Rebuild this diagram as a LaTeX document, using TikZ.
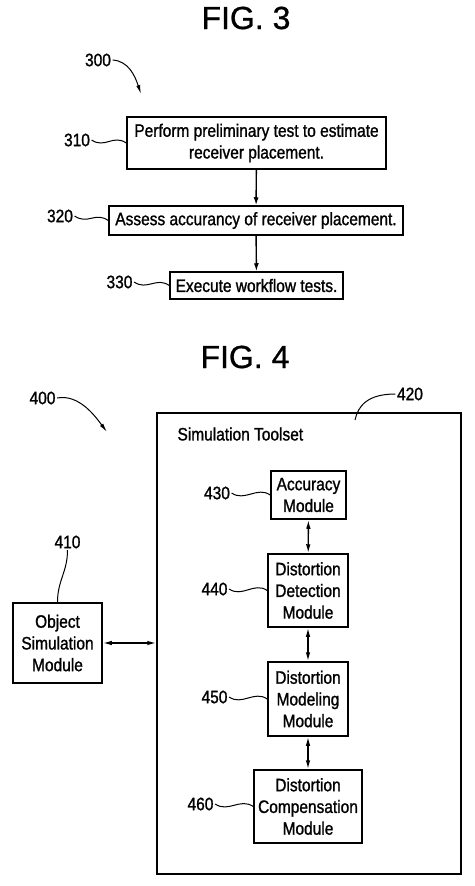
\documentclass[tikz,border=0pt]{standalone}
\usepackage{fontspec}
\setmainfont{Liberation Sans}[FakeStretch=0.86, FakeBold=1.2]
\newfontfamily\figfont{Liberation Sans}[FakeBold=0.8]
\usetikzlibrary{arrows.meta}

\tikzset{
  box/.style={draw, line width=1.5pt, inner sep=0pt, align=center},
  numlabel/.style={inner sep=1.5pt},
  leader/.style={line width=1pt, to path={.. controls +(13,9) and +(-13,-9) .. (\tikztotarget)}},
  flow/.style={-{Latex[length=8pt,width=5pt]}, line width=1.4pt},
  twoway/.style={{Latex[length=9pt,width=4.5pt]}-{Latex[length=9pt,width=4.5pt]}, line width=1.4pt},
  figtitle/.style={font=\figfont\fontsize{32}{38}\selectfont}
}

\begin{document}
\begin{tikzpicture}[x=1pt, y=-1pt, font=\fontsize{18}{21.7}\selectfont]
    \useasboundingbox (0, 0) rectangle (474, 886);

    % FIG. 3
    \node [figtitle] (fig3) at (246, 18) {FIG. 3};
    \node [numlabel] (n300) at (98, 60) {300};
    \coordinate (p300) at (141, 94);
    \draw [-{Latex[length=9pt,width=4pt]}] [line width=1pt] (n300.east) .. controls +(16, 1) and +(-6, -18) .. (p300);

    \node [box, minimum width=259, minimum height=52] (perform) at (256.5, 143) {Perform preliminary test to estimate\\receiver placement.};
    \node [box, minimum width=294, minimum height=29] (assess) at (256, 220.5) {Assess accurancy of receiver placement.};
    \node [box, minimum width=173, minimum height=27] (execute) at (256.5, 285.5) {Execute workflow tests.};
    \draw [flow] (perform) -- (assess);
    \draw [flow] (assess) -- (execute);

    \node [numlabel] (n310) at (77, 140) {310};
    \node [numlabel] (n320) at (60, 216) {320};
    \node [numlabel] (n330) at (119.5, 282) {330};
    \draw [leader] (n310.east) to (perform.west);
    \draw [leader] (n320.east) to (assess.west);
    \draw [leader] (n330.east) to (execute.west);

    % FIG. 4
    \node [figtitle] (fig4) at (245, 357) {FIG. 4};
    \node [numlabel] (n400) at (42.5, 398) {400};
    \coordinate (p400) at (107, 432);
    \draw [-{Latex[length=9pt,width=4pt]}] [line width=1pt] (n400.east) .. controls +(22, -4) and +(-12, -16) .. (p400);

    \node [box, minimum width=304, minimum height=461] (toolset) at (309, 643.5) {};
    \node [anchor=west] (toolname) at (174, 434) {Simulation Toolset};
    \node [numlabel] (n420) at (410, 394) {420};
    \coordinate (p420) at (355, 420);
    \draw [line width=1pt] (n420.west) .. controls +(-28, 0) and +(3, -14) .. (p420);

    \node [box, minimum width=75, minimum height=48] (accuracy) at (308.5, 495) {Accuracy\\Module};
    \node [box, minimum width=80, minimum height=73] (detect) at (308, 590.5) {Distortion\\Detection\\Module};
    \node [box, minimum width=80, minimum height=74] (model) at (308, 699) {Distortion\\Modeling\\Module};
    \node [box, minimum width=108, minimum height=73] (comp) at (308, 806.5) {Distortion\\Compensation\\Module};
    \draw [twoway] (accuracy) -- (detect);
    \draw [twoway] (detect) -- (model);
    \draw [twoway] (model) -- (comp);

    \node [numlabel] (n430) at (217, 493) {430};
    \node [numlabel] (n440) at (214.5, 589) {440};
    \node [numlabel] (n450) at (214.5, 697) {450};
    \node [numlabel] (n460) at (200.5, 804) {460};
    \draw [leader] (n430.east) to (accuracy.west);
    \draw [leader] (n440.east) to (detect.west);
    \draw [leader] (n450.east) to (model.west);
    \draw [leader] (n460.east) to (comp.west);

    \node [box, minimum width=89, minimum height=80] (objsim) at (57.5, 643) {Object\\Simulation\\Module};
    \draw [twoway] (objsim.east) -- (objsim.east -| toolset.west);
    \node [numlabel] (n410) at (67.5, 542) {410};
    \draw [line width=1pt] (n410.south) .. controls +(0, 22) and +(0, -22) .. (objsim.north);
\end{tikzpicture}
\end{document}
